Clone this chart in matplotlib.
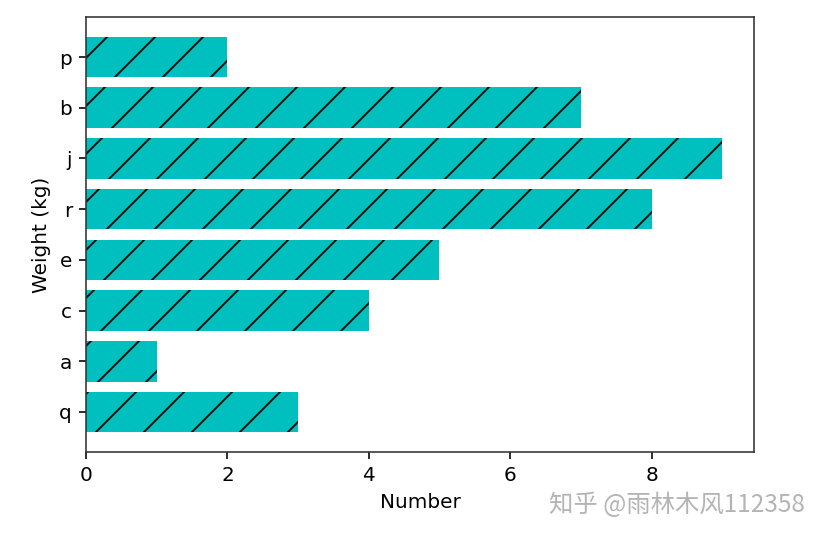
import matplotlib
matplotlib.use("Agg")
import matplotlib.pyplot as plt

# Categories (bottom to top) and their counts
categories = ["q", "a", "c", "e", "r", "j", "b", "p"]
numbers = [3, 1, 4, 5, 8, 9, 7, 2]

plt.rcParams["hatch.linewidth"] = 1.0
plt.rcParams["font.family"] = ["DejaVu Sans"]

fig = plt.figure(figsize=(826 / 144, 538 / 144), dpi=144)
ax = fig.add_axes([86 / 826, 1 - 452 / 538, (754 - 86) / 826, (452 - 17) / 538])

ax.barh(categories, numbers, color="c", hatch="/", linewidth=0, edgecolor="#111111")

ax.set_xlabel("Number", fontsize=10, labelpad=4)
ax.set_ylabel("Weight (kg)", fontsize=10, labelpad=4)
ax.tick_params(labelsize=10, length=3.5, width=0.8, pad=3.5)
for s in ax.spines.values():
    s.set_linewidth(0.8)
    s.set_edgecolor("#333333")

fig.text(805 / 826, 1 - 505 / 538, "知乎 @雨林木风112358", ha="right", va="center",
         fontsize=12.2, color="#b4b4b4",
         family=["Noto Sans CJK SC", "DejaVu Sans"])

fig.savefig("out.png", dpi=144)
